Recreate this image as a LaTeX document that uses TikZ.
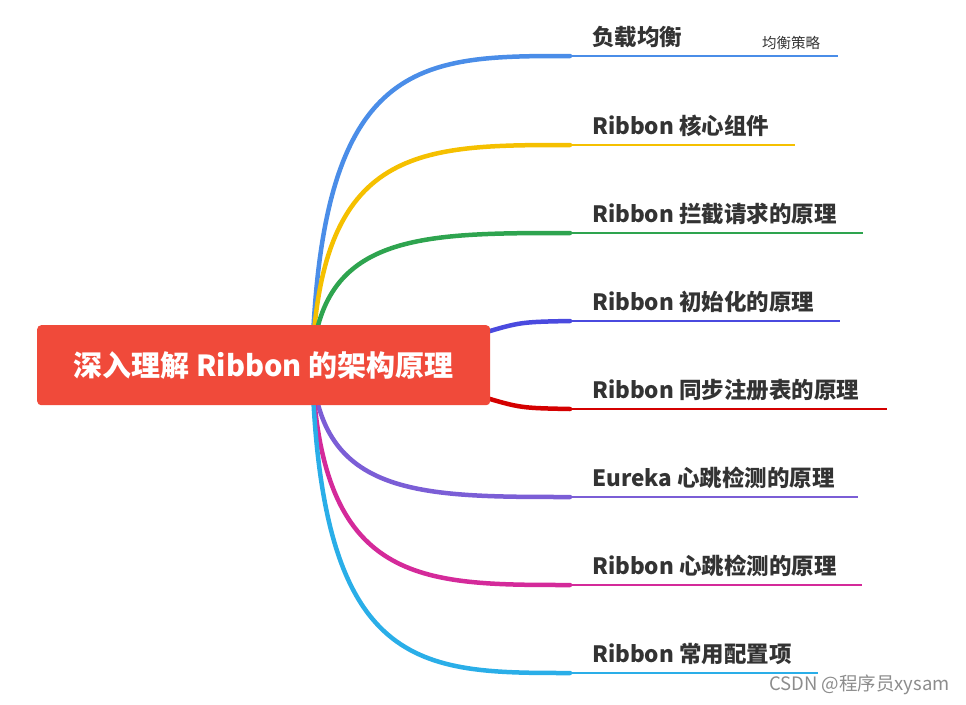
\documentclass[tikz,border=0pt]{standalone}
\usepackage{fontspec}
\setmainfont{Noto Sans CJK SC}
\definecolor{cA}{HTML}{4A8DE8}
\definecolor{cB}{HTML}{F5C000}
\definecolor{cC}{HTML}{2EA44F}
\definecolor{cD}{HTML}{4A4ADF}
\definecolor{cE}{HTML}{D40000}
\definecolor{cF}{HTML}{7B5ED6}
\definecolor{cG}{HTML}{D42A9A}
\definecolor{cH}{HTML}{2AAEE8}
\definecolor{rootred}{HTML}{F04A3A}
\begin{document}
\begin{tikzpicture}[x=1pt,y=-1pt,
  lbl/.style={anchor=south west,inner sep=0pt,font=\fontsize{22.5}{24}\selectfont\bfseries,text=black!80},
  br/.style={line width=4.5pt,line cap=round},
  ul/.style={line width=2pt}]
\useasboundingbox (0,0) rectangle (966,704);
\foreach \n/\y/\xe/\c/\t in {
  1/56/838/cA/负载均衡,
  2/145/795/cB/Ribbon 核心组件,
  3/233/863/cC/Ribbon 拦截请求的原理,
  6/497/858/cF/Eureka 心跳检测的原理,
  7/585/862/cG/Ribbon 心跳检测的原理,
  8/673/818/cH/Ribbon 常用配置项}{
  \coordinate (s\n) at (312,365);
  \coordinate (e\n) at (570,\y);
  \draw[br,\c] (s\n) .. controls (320,\y) and (420,\y) .. (e\n);
  \draw[ul,\c] (e\n) -- (\xe,\y) coordinate (f\n);
  \node[lbl] (l\n) at (592,\y-8) {\t};
}
\coordinate (s4) at (480,334); \coordinate (e4) at (570,321);
\draw[br,cD] (s4) .. controls (520,322) .. (e4);
\draw[ul,cD] (e4) -- (840,321);
\node[lbl] (l4) at (592,313) {Ribbon 初始化的原理};
\coordinate (s5) at (480,396); \coordinate (e5) at (570,409);
\draw[br,cE] (s5) .. controls (520,408) .. (e5);
\draw[ul,cE] (e5) -- (887,409);
\node[lbl] (l5) at (592,401) {Ribbon 同步注册表的原理};
\node[fill=rootred,rounded corners=4pt,minimum width=453pt,minimum height=80pt,anchor=north west,inner sep=0pt] (root) at (37,325) {};
\node[text=white,font=\fontsize{29}{32}\selectfont\bfseries] (rt) at (root.center) {深入理解 Ribbon 的架构原理};
\node[anchor=south west,inner sep=0pt,font=\fontsize{14.5}{16}\selectfont,text=black!80] (sub) at (762,50) {均衡策略};
\node[anchor=south east,inner sep=0pt,font=\fontsize{18.5}{20}\selectfont,text=black!45] (wm) at (950,695) {CSDN @程序员xysam};
\end{tikzpicture}
\end{document}
